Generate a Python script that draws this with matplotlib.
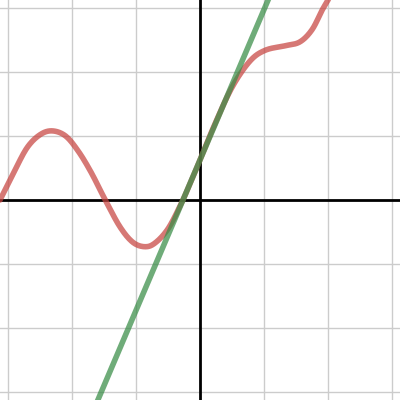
import numpy as np
import matplotlib
matplotlib.use("Agg")
import matplotlib.pyplot as plt

curve_x = [-3.125,-2.9,-2.7,-2.5,-2.31,-2.1,-1.9,-1.7,-1.48,-1.25,-1.05,-0.86,-0.7,-0.5,-0.3,-0.15,0.0,0.23,0.5,0.78,1.02,1.33,1.56,1.75,1.91,2.0,2.05]
curve_y = [0.0,0.45,0.82,1.02,1.08,1.0,0.76,0.43,0.0,-0.42,-0.66,-0.73,-0.67,-0.45,-0.07,0.27,0.625,1.18,1.76,2.17,2.34,2.41,2.47,2.66,2.97,3.125,3.25]
line_intercept = 0.625
line_slope = 2.35

def catmull(xs, ys, n=20):
    P = np.column_stack([xs, ys])
    P = np.vstack([P[0], P, P[-1]])
    out = []
    for i in range(1, len(P) - 2):
        p0, p1, p2, p3 = P[i-1], P[i], P[i+1], P[i+2]
        for t in np.linspace(0, 1, n, endpoint=False):
            out.append(0.5*((2*p1) + (-p0+p2)*t + (2*p0-5*p1+4*p2-p3)*t**2 + (-p0+3*p1-3*p2+p3)*t**3))
    out.append(P[-2])
    out = np.array(out)
    return out[:, 0], out[:, 1]

fig = plt.figure(figsize=(4, 4), dpi=100)
ax = fig.add_axes([0, 0, 1, 1])
ax.set_xlim(-3.125, 3.125)
ax.set_ylim(-3.125, 3.125)
for v in range(-3, 4):
    if v != 0:
        ax.axvline(v, color="#cccccc", lw=1, zorder=0)
        ax.axhline(v, color="#cccccc", lw=1, zorder=0)
ax.axvline(0, color="black", lw=2, zorder=1)
ax.axhline(0, color="black", lw=2, zorder=1)

sx, sy = catmull(curve_x, curve_y)
ax.plot(sx, sy, color="#c74440", alpha=0.72, lw=4, solid_capstyle="round", zorder=2)
lx = np.array([-4, 4])
ax.plot(lx, line_intercept + line_slope * lx, color="#388c46", alpha=0.72, lw=4, zorder=3)
ax.axis("off")
fig.savefig("out.png", dpi=100)
